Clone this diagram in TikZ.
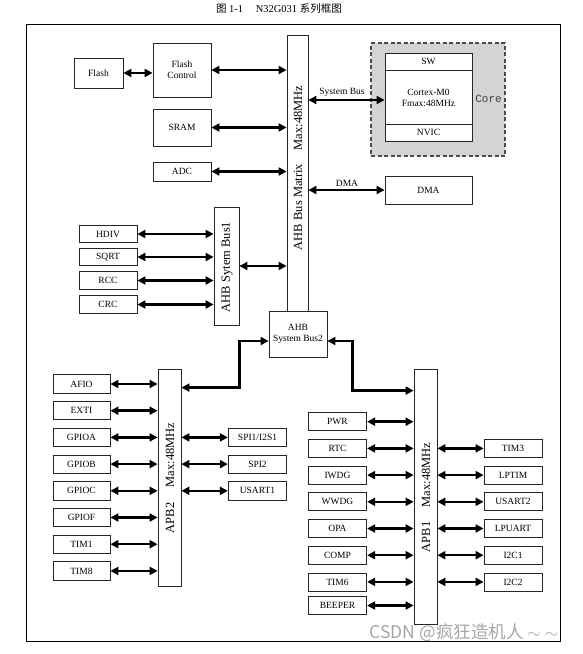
\documentclass[tikz,border=0pt]{standalone}
\usepackage{fontspec}
\setmainfont{Liberation Serif}
\newfontfamily\cjk{Noto Sans CJK SC}
\newfontfamily\monofam{Liberation Mono}
\usetikzlibrary{arrows.meta,calc}
\begin{document}
\begin{tikzpicture}[x=1pt,y=-1pt,
  wh/.style 2 args={minimum width=#1pt, minimum height=#2pt},
  box/.style={draw=black!85, line width=0.8pt, inner sep=0pt, font=\fontsize{9.5}{11}\selectfont, align=center},
  bar/.style={draw=black!85, line width=0.8pt, inner sep=0pt},
  bartxt/.style={rotate=90, font=\fontsize{12.5}{14}\selectfont, inner sep=0pt},
  conn/.style={line width=2.5pt, {Triangle[length=8pt,width=8pt]}-{Triangle[length=8pt,width=8pt]}},
  lbl/.style={font=\fontsize{9.5}{11}\selectfont, inner sep=0pt, align=center},
]
\useasboundingbox (0,0) rectangle (582,654);
\fill[white] (0,0) rectangle (582,654);

% title and frame
\node[font=\fontsize{10.5}{12}\selectfont, inner sep=0pt] (title) at (279,8.5) {{\cjk 图} 1-1\hspace{1.2em}N32G031 {\cjk 系列框图}};
\node[draw=black, line width=0.9pt, wh={534}{617}] (frame) at (293,332.5) {};

% top area
\node[box, wh={49}{30}] (flash) at (98.5,73) {Flash};
\node[box, wh={58}{54}] (fctl) at (182,70) {Flash\\Control};
\node[box, wh={58}{37}] (sram) at (182,127.5) {SRAM};
\node[box, wh={58}{19}] (adc) at (182,171.5) {ADC};
\node[bar, wh={21}{276}] (matrix) at (297.5,173) {};
\node[bartxt] (mtxa) at (298,118) {Max:48MHz};
\node[bartxt] (mtxb) at (298,207) {AHB Bus Matrix};

% core
\node[draw=black!70, dash pattern=on 4pt off 2.5pt, line width=1.3pt, fill=black!17, wh={134}{113}] (core) at (438,99.5) {};
\node[box, fill=white, wh={87}{88}] (cpu) at (428.5,97) {};
\draw[draw=black!85, line width=0.8pt] ($(cpu.north west)+(0,18)$) -- ($(cpu.north east)+(0,18)$);
\draw[draw=black!85, line width=0.8pt] ($(cpu.south west)+(0,-17)$) -- ($(cpu.south east)+(0,-17)$);
\node[lbl] (sw) at ($(cpu.north)+(0,9)$) {SW};
\node[lbl] (m0) at ($(cpu.center)+(0,0.5)$) {Cortex-M0\\Fmax:48MHz};
\node[lbl] (nvic) at ($(cpu.south)+(0,-8.5)$) {NVIC};
\node[font=\monofam\fontsize{11}{12}\selectfont, text=black!75, inner sep=0pt] (corelbl) at (488.5,99) {Core};
\node[box, wh={87}{28}] (dma) at (428.5,190) {DMA};

\coordinate (sysb) at ($(cpu.west)+(0,3)$);
\draw[conn] (matrix.east |- sysb) -- (sysb);
\node[lbl] (sysl) at (342,92) {System Bus};
\draw[conn] (matrix.east |- dma.west) -- (dma.west);
\node[lbl] (dmal) at (347,183) {DMA};

\draw[conn] (flash.east) -- (fctl.west |- flash.east);
\draw[conn] (fctl.east) -- (fctl.east -| matrix.west);
\draw[conn] (sram.east) -- (sram.east -| matrix.west);
\draw[conn] (adc.east) -- (adc.east -| matrix.west);

% AHB system bus1
\node[bar, wh={25}{118}] (bus1) at (226.5,266) {};
\node[bartxt] (bus1t) at (227,267) {AHB Sytem Bus1};
\draw[conn] (bus1.east) -- (bus1.east -| matrix.west);
\foreach \n/\t/\yy in {hdiv/HDIV/234, sqrt/SQRT/257, rcc/RCC/280.5, crc/CRC/304.5}{
  \node[box, wh={58}{17.5}] (\n) at (108,\yy) {\t};
  \draw[conn] (\n.east) -- (\n.east -| bus1.west);
}

% AHB system bus2
\node[box, wh={58}{46}] (bus2) at (298,334) {AHB\\System Bus2};

% APB2
\node[bar, wh={23}{217}] (apb2) at (169.5,477.5) {};
\node[bartxt] (apb2a) at (170,455) {Max:48MHz};
\node[bartxt] (apb2b) at (170,518) {APB2};
\foreach \n/\t/\i in {afio/AFIO/0, exti/EXTI/1, gpioa/GPIOA/2, gpiob/GPIOB/3, gpioc/GPIOC/4, gpiof/GPIOF/5, tima/TIM1/6, timb/TIM8/7}{
  \node[box, wh={57}{18.3}] (\n) at (81.5,{384+26.7*\i}) {\t};
  \draw[conn] (\n.east) -- (\n.east -| apb2.west);
}
\node[box, wh={58.5}{18.3}] (spia) at (257.5,437.4) {SPI1/I2S1};
\node[box, wh={58.5}{18.3}] (spib) at (257.5,464.1) {SPI2};
\node[box, wh={58.5}{18.3}] (usarta) at (257.5,490.8) {USART1};
\draw[conn] (apb2.east |- spia.west) -- (spia.west);
\draw[conn] (apb2.east |- spib.west) -- (spib.west);
\draw[conn] (apb2.east |- usarta.west) -- (usarta.west);

% APB1
\node[bar, wh={23}{255}] (apb1) at (425.5,496.5) {};
\node[bartxt] (apb1a) at (426,475) {Max:48MHz};
\node[bartxt] (apb1b) at (426,537) {APB1};
\foreach \n/\t/\yy in {pwr/PWR/421.7, rtc/RTC/448.4, iwdg/IWDG/475.1, wwdg/WWDG/501.8, opa/OPA/528.5, comp/COMP/555.2, timf/TIM6/581.9, beep/BEEPER/605.5}{
  \node[box, wh={58.5}{18}] (\n) at (337.5,\yy) {\t};
  \draw[conn] (\n.east) -- (\n.east -| apb1.west);
}
\foreach \n/\t/\yy in {timc/TIM3/448.4, lptim/LPTIM/475.1, usartb/USART2/501.8, lpuart/LPUART/528.5, ica/I2C1/555.2, icb/I2C2/581.9}{
  \node[box, wh={58}{18}] (\n) at (513,\yy) {\t};
  \draw[conn] (apb1.east |- \n.west) -- (\n.west);
}

% bus2 connectors
\draw[conn] ($(bus2.west)+(0,7)$) -- ++(-29,0) |- ($(apb2.north east)+(0,19)$);
\draw[conn] ($(bus2.east)+(0,7)$) -- ++(25,0) |- ($(apb1.north west)+(0,22)$);

% watermark
\node[font=\cjk\fontsize{17.5}{20}\selectfont, text=black!35, inner sep=0pt] (wm) at (464,633) {CSDN @疯狂造机人 $\sim$ $\sim$};
\end{tikzpicture}
\end{document}
